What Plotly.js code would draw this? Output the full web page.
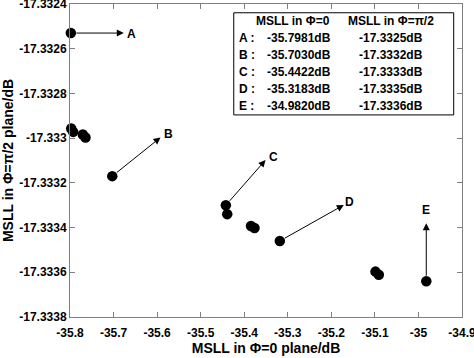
<!DOCTYPE html>
<html>
<head>
<meta charset="utf-8">
<script src="https://cdn.plot.ly/plotly-3.0.1.min.js"></script>
<style>
html,body{margin:0;padding:0;background:#fff;}
#chart{width:474px;height:358px;}
</style>
</head>
<body>
<div id="chart"></div>
<script>
// ---- data ----
var pointX = [-35.7981, -35.7972, -35.7927, -35.7706, -35.7644, -35.7030, -35.4422, -35.4390, -35.3844, -35.3764, -35.3183, -35.0986, -35.0910, -34.9820];
var pointY = [-17.33253, -17.332957, -17.332972, -17.332984, -17.332997, -17.33317, -17.33330, -17.33334, -17.333393, -17.333402, -17.33346, -17.333597, -17.333611, -17.33364];

var labelNames = ['A', 'B', 'C', 'D', 'E'];
var labelX = [-35.7981, -35.7030, -35.4422, -35.3183, -34.9820];
var labelY = [-17.33253, -17.33317, -17.33330, -17.33346, -17.33364];
var tipX = [-35.6765, -35.5922, -35.3511, -35.1714, -34.9820];
var tipY = [-17.33253, -17.332997, -17.333098, -17.333299, -17.333381];

var tablePhi0 = [-35.7981, -35.7030, -35.4422, -35.3183, -34.9820];
var tablePhi90 = [-17.3325, -17.3332, -17.3333, -17.3335, -17.3336];
var tableHeaders = ['MSLL in \u03A6=0', 'MSLL in \u03A6=\u03C0/2'];

var xTickVals = [-35.8, -35.7, -35.6, -35.5, -35.4, -35.3, -35.2, -35.1, -35, -34.9];
var xTickText = ['-35.8', '-35.7', '-35.6', '-35.5', '-35.4', '-35.3', '-35.2', '-35.1', '-35', '-34.9'];
var yTickVals = [-17.3324, -17.3326, -17.3328, -17.333, -17.3332, -17.3334, -17.3336, -17.3338];
var yTickText = ['-17.3324', '-17.3326', '-17.3328', '-17.333', '-17.3332', '-17.3334', '-17.3336', '-17.3338'];

// ---- layout helpers ----
var W = 474, H = 358;
var mL = 69.5, mR = 12.4, mT = 3.5, mB = 40.7;
var pw = W - mL - mR, ph = H - mT - mB;
function px(x) { return (x - mL) / pw; }
function py(y) { return 1 - (y - mT) / ph; }

var FONT = 'Liberation Sans, Arial, sans-serif';
var bold = {family: FONT, size: 12, color: '#000', weight: 'bold'};

var annotations = [];
var labelOffsets = [
  {xanchor: 'left', yanchor: 'middle', xshift: 1, yshift: -1},
  {xanchor: 'left', yanchor: 'middle', xshift: 1, yshift: 3},
  {xanchor: 'left', yanchor: 'middle', xshift: 1, yshift: 3},
  {xanchor: 'left', yanchor: 'middle', xshift: -1, yshift: 3},
  {xanchor: 'center', yanchor: 'bottom', xshift: 0, yshift: 4}
];
for (var i = 0; i < labelNames.length; i++) {
  annotations.push({
    x: tipX[i], y: tipY[i], xref: 'x', yref: 'y',
    ax: labelX[i], ay: labelY[i], axref: 'x', ayref: 'y',
    text: '', showarrow: true, arrowhead: 2, arrowsize: 1.4, arrowwidth: 1,
    arrowcolor: '#000', startstandoff: 4
  });
  var o = labelOffsets[i];
  annotations.push({
    x: tipX[i], y: tipY[i], xref: 'x', yref: 'y', text: labelNames[i],
    showarrow: false, xanchor: o.xanchor, yanchor: o.yanchor,
    xshift: o.xshift, yshift: o.yshift, font: bold
  });
}

// table
var rowY = [20.5, 37.5, 54.5, 71.5, 88.5, 105.5];
annotations.push({x: px(293), y: py(rowY[0]), xref: 'paper', yref: 'paper', text: tableHeaders[0], showarrow: false, xanchor: 'center', yanchor: 'middle', font: bold});
annotations.push({x: px(391), y: py(rowY[0]), xref: 'paper', yref: 'paper', text: tableHeaders[1], showarrow: false, xanchor: 'center', yanchor: 'middle', font: bold});
for (var j = 0; j < labelNames.length; j++) {
  annotations.push({x: px(237), y: py(rowY[j + 1]), xref: 'paper', yref: 'paper', text: labelNames[j] + ' :', showarrow: false, xanchor: 'left', yanchor: 'middle', font: bold});
  annotations.push({x: px(299), y: py(rowY[j + 1]), xref: 'paper', yref: 'paper', text: tablePhi0[j].toFixed(4) + 'dB', showarrow: false, xanchor: 'center', yanchor: 'middle', font: bold});
  annotations.push({x: px(391), y: py(rowY[j + 1]), xref: 'paper', yref: 'paper', text: tablePhi90[j].toFixed(4) + 'dB', showarrow: false, xanchor: 'center', yanchor: 'middle', font: bold});
}

var shapes = [{
  type: 'rect', xref: 'paper', yref: 'paper',
  x0: px(233.3), x1: px(453.3), y0: py(114.7), y1: py(12.3),
  line: {color: '#000', width: 1}, fillcolor: '#fff', layer: 'above'
}];

var trace = {
  x: pointX, y: pointY, type: 'scatter', mode: 'markers',
  marker: {color: '#000', size: 10.5},
  hoverinfo: 'none', cliponaxis: false
};

var axisCommon = {
  showgrid: false, zeroline: false, showline: true, linecolor: '#808080', linewidth: 1,
  mirror: 'ticks', ticks: 'inside', ticklen: 5, tickcolor: '#808080', tickwidth: 1,
  tickfont: bold, tickmode: 'array', ticklabeloverflow: 'allow'
};

var layout = {
  width: W, height: H,
  margin: {l: mL, r: mR, t: mT, b: mB, pad: 0},
  paper_bgcolor: '#fff', plot_bgcolor: '#fff',
  showlegend: false,
  xaxis: Object.assign({}, axisCommon, {
    range: [-35.8, -34.9], tickvals: xTickVals, ticktext: xTickText,
    ticklabelstandoff: 5,
    title: {text: 'MSLL in \u03A6=0 plane/dB', font: {family: FONT, size: 14, color: '#000', weight: 'bold'}, standoff: 0}
  }),
  yaxis: Object.assign({}, axisCommon, {
    range: [-17.3338, -17.3324], tickvals: yTickVals, ticktext: yTickText,
    title: {text: 'MSLL in \u03A6=\u03C0/2 plane/dB', font: {family: FONT, size: 14, color: '#000', weight: 'bold'}, standoff: 4}
  }),
  annotations: annotations,
  shapes: shapes
};

Plotly.newPlot('chart', [trace], layout, {staticPlot: true, displayModeBar: false});
</script>
</body>
</html>
